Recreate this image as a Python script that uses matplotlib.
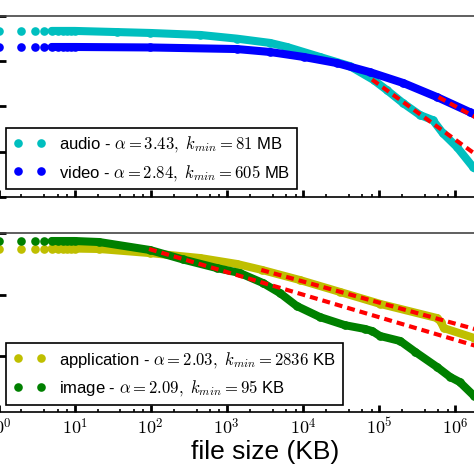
import matplotlib
matplotlib.use('Agg')
import matplotlib.pyplot as plt
from matplotlib.ticker import LogLocator, FixedLocator, NullLocator, FuncFormatter
import numpy as np

plt.rcParams['font.family'] = ['Liberation Sans', 'DejaVu Sans']
plt.rcParams['mathtext.fontset'] = 'cm'

# CCDF of file sizes (KB)
audio_k = [1, 2, 3, 4, 5, 6, 7, 8, 9, 10, 36, 98, 450, 1350, 3700, 6200, 16700,
           41000, 85000, 126000, 207000, 345000, 510000, 690000, 1.06e6, 1.72e6, 2.9e6]
audio_p = [0.219, 0.219, 0.219, 0.219, 0.219, 0.219, 0.219, 0.219, 0.219, 0.219,
           0.195, 0.178, 0.145, 0.100, 0.0646, 0.0427, 0.0155, 6.2e-3, 1.48e-3,
           5.4e-4, 1.41e-4, 4.2e-5, 2.5e-5, 6.6e-6, 1.6e-6, 2.1e-7, 5.5e-8]

video_k = [1, 2, 3, 4, 5, 6, 7, 8, 9, 10, 98, 1350, 3700, 10200, 28000, 76000,
           207000, 580000, 1.57e6, 2.9e6]
video_p = [0.0427, 0.0427, 0.0427, 0.0427, 0.0427, 0.0427, 0.0427, 0.0427, 0.0427,
           0.0427, 0.0407, 0.0347, 0.0257, 0.0155, 8.3e-3, 3.3e-3, 1.1e-3, 2.6e-4,
           5.6e-5, 2.0e-5]

app_k = [1, 2, 3, 4, 5, 6, 7, 8, 9, 10, 21, 98, 450, 1350, 2900, 9100, 31000,
         103000, 580000, 650000, 710000, 1.78e6, 2.9e6]
app_p = [0.174, 0.174, 0.174, 0.174, 0.174, 0.174, 0.174, 0.174, 0.174, 0.174,
         0.166, 0.105, 0.060, 0.031, 0.0158, 5.1e-3, 1.32e-3, 3.5e-4, 7.1e-5,
         4.6e-5, 2.3e-5, 7.6e-6, 4.8e-6]

image_k = [1, 2, 3, 4, 5, 6, 7, 8, 9, 10, 21, 98, 265, 740, 1480, 3000, 5000,
           8300, 16800, 35500, 65000, 81000, 103000, 190000, 300000, 580000,
           860000, 1.15e6, 1.78e6, 2.9e6]
image_p = [0.407, 0.407, 0.407, 0.407, 0.407, 0.407, 0.407, 0.407, 0.407, 0.407,
           0.363, 0.148, 0.0513, 0.0195, 0.0112, 3.6e-3, 1.17e-3, 2.75e-4, 7.9e-5,
           3.2e-5, 2.1e-5, 1.66e-5, 9.5e-6, 5.4e-6, 1.58e-6, 2.9e-7, 9.5e-8,
           5.4e-8, 1.12e-8, 4e-9]

# power-law fits (end points)
audio_fit_k = [8.1e4, 3e6]
audio_fit_p = [1.55e-3, 2.4e-7]
video_fit_k = [6.05e5, 3e6]
video_fit_p = [2.6e-4, 1.38e-5]
app_fit_k = [2836, 3e6]
app_fit_p = [1.58e-2, 1.23e-5]
image_fit_k = [95, 3e6]
image_fit_p = [0.166, 1.86e-6]

labels_top = [r'audio - $\alpha = 3.43,$ $k_{min} = 81$ MB',
              r'video - $\alpha = 2.84,$ $k_{min} = 605$ MB']
labels_bot = [r'application - $\alpha = 2.03,$ $k_{min} = 2836$ KB',
              r'image - $\alpha = 2.09,$ $k_{min} = 95$ KB']

fig = plt.figure(figsize=(4.74, 4.74), dpi=100)
ax1 = fig.add_axes([-1.5 / 474, 1 - 197 / 474, 532.7 / 474, 181 / 474])
ax2 = fig.add_axes([-1.5 / 474, 1 - 412 / 474, 532.7 / 474, 179 / 474], sharex=ax1)

panels = [
    (ax1, [(audio_k, audio_p, 'c'), (video_k, video_p, 'b')],
     [(audio_fit_k, audio_fit_p), (video_fit_k, video_fit_p)], labels_top),
    (ax2, [(app_k, app_p, 'y'), (image_k, image_p, 'g')],
     [(app_fit_k, app_fit_p), (image_fit_k, image_fit_p)], labels_bot),
]

for ax, series, fits, labels in panels:
    for (k, p, col), lab in zip(series, labels):
        ax.plot(k[4:], p[4:], '-', color=col, lw=5.8,
                solid_capstyle='round', solid_joinstyle='round')
        ax.plot(k, p, 'o', color=col, ms=6.2, mew=0, label=lab)
    for fk, fp in fits:
        ax.plot(fk, fp, color='r', lw=3, dashes=(1.9, 1.2), zorder=5)

    ax.set_xscale('log')
    ax.set_yscale('log')
    ax.set_xlim(1, 1e7)
    ax.xaxis.set_major_locator(LogLocator(base=10, numticks=20))
    ax.xaxis.set_minor_locator(LogLocator(base=10, subs=(2, 4, 6, 8), numticks=20))
    ax.xaxis.set_major_formatter(FuncFormatter(lambda v, p: r'$10^{%d}$' % round(np.log10(v))))
    ax.yaxis.set_minor_locator(NullLocator())
    ax.tick_params(which='major', direction='in', length=5, width=2,
                   top=False, right=False, labelsize=13, pad=4)
    ax.tick_params(which='minor', direction='in', length=2.5, width=1.2,
                   top=False, right=False)
    ax.tick_params(axis='y', labelleft=False)
    for s in ax.spines.values():
        s.set_linewidth(1.2)
    ax.spines['top'].set_color('#444444')

    leg = ax.legend(loc='lower left', numpoints=2, fontsize=12, fancybox=False,
                    edgecolor='black', framealpha=1, borderpad=0.4,
                    labelspacing=0.5, handlelength=2.0, handletextpad=0.8,
                    borderaxespad=0.45)
    leg.get_frame().set_linewidth(1.2)

ax1.set_ylim(1e-8, 1)
ax1.yaxis.set_major_locator(FixedLocator([1, 1e-2, 1e-4, 1e-6, 1e-8]))
ax1.tick_params(labelbottom=False)

ax2.set_ylim(10 ** -8.73, 1)
ax2.yaxis.set_major_locator(FixedLocator([1, 1e-3, 1e-6]))
ax2.set_xlabel('file size (KB)', fontsize=19, labelpad=1)

plt.savefig('out.png', dpi=100)
